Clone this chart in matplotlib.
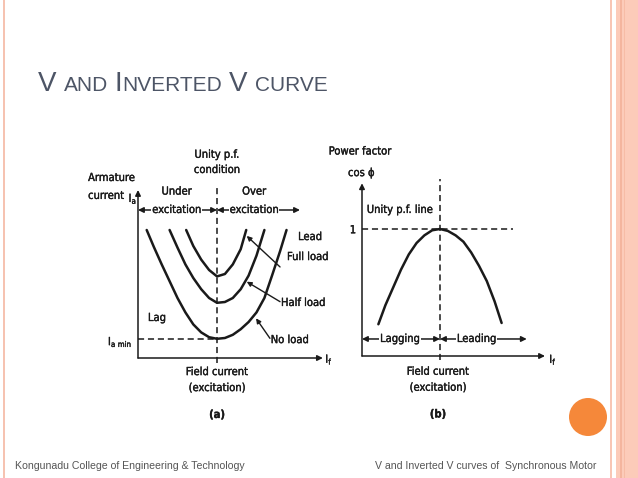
import matplotlib.pyplot as plt
import matplotlib.patheffects as pe
from matplotlib.patches import Rectangle, Circle

# (a) V curves: field current (arb. units, unity p.f. at 5) vs armature current
if_noload = [0.55, 1.0, 1.5, 2.0, 2.5, 3.0, 3.5, 4.0, 4.5, 5.0, 5.5, 6.0, 6.5, 7.0, 7.5, 8.0, 8.5, 9.0, 9.4]
ia_noload = [8.0, 6.95, 5.85, 4.8, 3.75, 2.85, 2.1, 1.6, 1.3, 1.2, 1.25, 1.45, 1.8, 2.25, 2.85, 3.75, 5.2, 6.7, 8.0]
if_half = [2.0, 2.5, 3.0, 3.5, 4.0, 4.5, 5.0, 5.5, 6.0, 6.5, 7.0, 7.5, 8.0]
ia_half = [8.0, 6.9, 5.85, 5.0, 4.3, 3.75, 3.45, 3.5, 3.75, 4.3, 5.15, 6.4, 8.0]
if_full = [3.05, 3.5, 4.0, 4.5, 5.0, 5.5, 6.0, 6.5, 6.85]
ia_full = [8.0, 7.0, 6.15, 5.5, 5.1, 5.25, 5.85, 6.8, 8.0]
ia_min = 1.2
if_unity = 5.0

# (b) inverted V curve: field current vs power factor
if_pf = [1.05, 1.5, 2.0, 2.5, 3.0, 3.5, 4.0, 4.5, 5.0, 5.5, 6.0, 6.5, 7.0, 7.5, 8.0, 8.5, 8.95]
pf = [0.25, 0.40, 0.54, 0.68, 0.80, 0.89, 0.95, 0.99, 1.0, 0.985, 0.95, 0.90, 0.815, 0.71, 0.59, 0.43, 0.26]

ink = '#1a1a1a'
fs = 8
heavy = [pe.withStroke(linewidth=0.25, foreground=ink)]

fig = plt.figure(figsize=(6.38, 4.78), dpi=100)

# slide background in pixel coordinates
bg = fig.add_axes([0, 0, 1, 1])
bg.set_xlim(0, 638)
bg.set_ylim(478, 0)
bg.axis('off')
bg.add_patch(Rectangle((2.8, 0), 2.6, 478, color='#f6c3b1', lw=0))
bg.add_patch(Rectangle((610.3, 0), 1.8, 478, color='#f8c6b5', lw=0))
bg.add_patch(Rectangle((616.3, 0), 21.7, 478, color='#fccbb9', lw=0))
bg.add_patch(Rectangle((620.0, 0), 1.8, 478, color='#f4b59e', lw=0))
bg.add_patch(Rectangle((624.0, 0), 1.2, 478, color='#f6bca6', lw=0))
bg.add_patch(Circle((588, 417), 19, color='#f5883a', lw=0))

# title in small caps
renderer = fig.canvas.get_renderer()
x = 38
pieces = [('V', 20, 0), ('AND', 15, 7), ('I', 20, 7), ('NVERTED', 15, 0), ('V', 20, 7), ('CURVE', 15, 7)]
for s, size, gap in pieces:
    x += gap
    t = bg.text(x, 90.7, s, fontsize=size, color='#4d5566', family='Liberation Sans',
                ha='left', va='baseline')
    x = t.get_window_extent(renderer).x1

bg.text(15, 466, 'Kongunadu College of Engineering & Technology', fontsize=7.6,
        color='#555555', family='Liberation Sans', va='center')
bg.text(375, 466, 'V and Inverted V curves of  Synchronous Motor', fontsize=7.6,
        color='#555555', family='Liberation Sans', va='center')

arrow_kw = dict(color=ink, lw=1.1, shrinkA=0, shrinkB=0, mutation_scale=8)
dash = (0, (4, 2.5))


def txt(ax, x, y, s, **kw):
    kw.setdefault('ha', 'center')
    kw.setdefault('va', 'center')
    ax.text(x, y, s, fontsize=fs, color=ink, family='DejaVu Sans', fontstretch='condensed',
            clip_on=False, path_effects=heavy, **kw)


def span(ax, x0, x1, y, label, xl):
    ax.annotate('', xy=(x0, y), xytext=(x1, y), annotation_clip=False,
                arrowprops=dict(arrowstyle='<|-|>', **arrow_kw))
    txt(ax, xl, y, label, bbox=dict(fc='white', ec='none', pad=0.6))


# ---- (a) V curves ----
axa = fig.add_axes([138 / 638, 120 / 478, 12 * 15.8 / 638, 11 * 16 / 478])
axa.set_xlim(0, 12)
axa.set_ylim(0, 11)
axa.axis('off')

axa.annotate('', xy=(0, 10.5), xytext=(0, 0), annotation_clip=False,
             arrowprops=dict(arrowstyle='-|>', **arrow_kw))
axa.annotate('', xy=(11.7, 0), xytext=(0, 0), annotation_clip=False,
             arrowprops=dict(arrowstyle='-|>', **arrow_kw))
axa.plot([if_unity, if_unity], [-0.3, 10.8], ls=dash, lw=1.1, color=ink, clip_on=False)
axa.plot([0, if_unity], [ia_min, ia_min], ls=dash, lw=1.1, color=ink, clip_on=False)

for xs, ys in [(if_noload, ia_noload), (if_half, ia_half), (if_full, ia_full)]:
    axa.plot(xs, ys, color=ink, lw=1.8, solid_capstyle='round', clip_on=False)

span(axa, 0, if_unity, 9.25, 'excitation', 2.45)
span(axa, if_unity, 10.25, 9.25, 'excitation', 7.35)
txt(axa, 2.45, 10.4, 'Under')
txt(axa, 7.35, 10.4, 'Over')
txt(axa, 5, 12.7, 'Unity p.f.')
txt(axa, 5, 11.75, 'condition')
txt(axa, -3.16, 11.25, 'Armature', ha='left')
txt(axa, -3.16, 10.13, 'current', ha='left')
txt(axa, -0.6, 9.95, r'$\mathregular{I_a}$', ha='left')
txt(axa, -0.35, 1.0, r'$\mathregular{I_{a\ min}}$', ha='right')
txt(axa, 11.85, -0.1, r'$\mathregular{I_f}$', ha='left')
txt(axa, 0.63, 2.5, 'Lag', ha='left')
txt(axa, 10.13, 7.56, 'Lead', ha='left')
txt(axa, 9.43, 6.31, 'Full load', ha='left')
txt(axa, 9.05, 3.44, 'Half load', ha='left')
txt(axa, 8.4, 1.12, 'No load', ha='left')
txt(axa, 5, -0.88, 'Field current')
txt(axa, 5, -1.88, '(excitation)')
txt(axa, 5, -3.56, '(a)', fontweight='bold')

for start, end in [((8.99, 5.69), (6.88, 7.63)),
                   ((8.99, 3.52), (6.88, 4.77)),
                   ((8.35, 1.23), (7.47, 2.48))]:
    axa.annotate('', xy=end, xytext=start, annotation_clip=False,
                 arrowprops=dict(arrowstyle='-|>', color=ink, lw=1.0,
                                 shrinkA=0, shrinkB=0, mutation_scale=7))

# ---- (b) inverted V curve ----
axb = fig.add_axes([362 / 638, 122 / 478, 12 * 15.6 / 638, 1.45 * 127 / 478])
axb.set_xlim(0, 12)
axb.set_ylim(0, 1.45)
axb.axis('off')

axb.annotate('', xy=(0, 1.36), xytext=(0, 0), annotation_clip=False,
             arrowprops=dict(arrowstyle='-|>', **arrow_kw))
axb.annotate('', xy=(11.73, 0), xytext=(0, 0), annotation_clip=False,
             arrowprops=dict(arrowstyle='-|>', **arrow_kw))
axb.plot([if_unity, if_unity], [-0.03, 1.39], ls=dash, lw=1.1, color=ink, clip_on=False)
axb.plot([0, 9.68], [1.0, 1.0], ls=dash, lw=1.1, color=ink, clip_on=False)
axb.plot(if_pf, pf, color=ink, lw=1.8, solid_capstyle='round', clip_on=False)

span(axb, 0, if_unity, 0.134, 'Lagging', 2.44)
span(axb, if_unity, 10.56, 0.134, 'Leading', 7.35)
txt(axb, -0.13, 1.61, 'Power factor')
txt(axb, 0.0, 1.44, r'cos $\mathregular{\phi}$')
txt(axb, 2.44, 1.15, 'Unity p.f. line')
txt(axb, -0.58, 0.99, '1')
txt(axb, 12.0, -0.03, r'$\mathregular{I_f}$', ha='left')
txt(axb, 4.87, -0.124, 'Field current')
txt(axb, 4.87, -0.25, '(excitation)')
txt(axb, 4.87, -0.46, '(b)', fontweight='bold')

fig.savefig('out.png', dpi=100)
